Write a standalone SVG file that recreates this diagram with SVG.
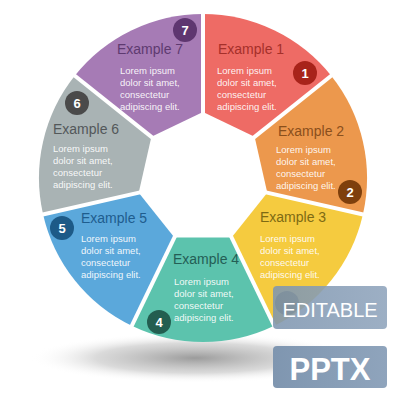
<svg xmlns="http://www.w3.org/2000/svg" width="400" height="400" viewBox="0 0 400 400">
<defs>
<radialGradient id="shadow" cx="0.5" cy="0.5" r="0.5">
<stop offset="0" stop-color="#909090" stop-opacity="0.9"/>
<stop offset="0.6" stop-color="#bcbcbc" stop-opacity="0.55"/>
<stop offset="1" stop-color="#ffffff" stop-opacity="0"/>
</radialGradient>
<linearGradient id="boxg" x1="0" y1="0" x2="1" y2="0">
<stop offset="0" stop-color="#7f96b0"/>
<stop offset="1" stop-color="#8fa4bc"/>
</linearGradient>
<style>
.t{font-family:"Liberation Sans",Arial,sans-serif;font-size:14px}
.l{font-family:"Liberation Sans",Arial,sans-serif;font-size:9.5px;fill:#ffffff;fill-opacity:0.92}
.bn{font-family:"Liberation Sans",Arial,sans-serif;font-size:13px;font-weight:bold;fill:#ffffff;text-anchor:middle}
.gap{stroke:#ffffff;stroke-width:4;fill:none}
</style>
</defs>
<rect width="400" height="400" fill="#ffffff"/>
<ellipse cx="195" cy="358" rx="165" ry="25" fill="url(#shadow)"/>
<g id="seg1">
<path d="M203 14 A164 164 0 0 1 331.2 75.7 L254.6 136.8 L203 112 Z" fill="#ee6b65"/>
<text class="t" x="218" y="54" fill="#a5302a">Example 1</text>
<text class="l" x="217" y="73.5">Lorem ipsum</text>
<text class="l" x="217" y="85.5">dolor sit amet,</text>
<text class="l" x="217" y="97.5">consectetur</text>
<text class="l" x="217" y="109.5">adipiscing elit.</text>
<circle cx="305" cy="73" r="12" fill="#a8231a"/>
<text class="bn" x="305" y="77.5">1</text>
</g>
<g id="seg2">
<path d="M331.2 75.7 A164 164 0 0 1 362.9 214.5 L267.3 192.7 L254.6 136.8 Z" fill="#ec984d"/>
<text class="t" x="278" y="136" fill="#8a4f1c">Example 2</text>
<text class="l" x="276" y="152.5">Lorem ipsum</text>
<text class="l" x="276" y="164.5">dolor sit amet,</text>
<text class="l" x="276" y="176.5">consectetur</text>
<text class="l" x="276" y="188.5">adipiscing elit.</text>
<circle cx="350" cy="192" r="12" fill="#7e3f0c"/>
<text class="bn" x="350" y="196.5">2</text>
</g>
<g id="seg3">
<path d="M362.9 214.5 A164 164 0 0 1 274.2 325.8 L231.6 237.5 L267.3 192.7 Z" fill="#f5cb3f"/>
<text class="t" x="260" y="222" fill="#7d6a14">Example 3</text>
<text class="l" x="260" y="241.5">Lorem ipsum</text>
<text class="l" x="260" y="253.5">dolor sit amet,</text>
<text class="l" x="260" y="265.5">consectetur</text>
<text class="l" x="260" y="277.5">adipiscing elit.</text>
<circle cx="287" cy="303" r="12" fill="#7a6512"/>
</g>
<g id="seg4">
<path d="M274.2 325.8 A164 164 0 0 1 131.8 325.8 L174.4 237.5 L231.6 237.5 Z" fill="#5cc3ad"/>
<text class="t" x="173" y="264" fill="#245e55">Example 4</text>
<text class="l" x="174" y="284.5">Lorem ipsum</text>
<text class="l" x="174" y="296.5">dolor sit amet,</text>
<text class="l" x="174" y="308.5">consectetur</text>
<text class="l" x="174" y="320.5">adipiscing elit.</text>
<circle cx="159" cy="322" r="12" fill="#235e50"/>
<text class="bn" x="159" y="326.5">4</text>
</g>
<g id="seg5">
<path d="M131.8 325.8 A164 164 0 0 1 43.1 214.5 L138.7 192.7 L174.4 237.5 Z" fill="#5ba8db"/>
<text class="t" x="81" y="223" fill="#1f5d8e">Example 5</text>
<text class="l" x="81" y="241.5">Lorem ipsum</text>
<text class="l" x="81" y="253.5">dolor sit amet,</text>
<text class="l" x="81" y="265.5">consectetur</text>
<text class="l" x="81" y="277.5">adipiscing elit.</text>
<circle cx="62" cy="228" r="12" fill="#1d5a87"/>
<text class="bn" x="62" y="232.5">5</text>
</g>
<g id="seg6">
<path d="M43.1 214.5 A164 164 0 0 1 74.8 75.7 L151.4 136.8 L138.7 192.7 Z" fill="#a9b3b4"/>
<text class="t" x="53" y="134" fill="#53585a">Example 6</text>
<text class="l" x="53" y="151.5">Lorem ipsum</text>
<text class="l" x="53" y="163.5">dolor sit amet,</text>
<text class="l" x="53" y="175.5">consectetur</text>
<text class="l" x="53" y="187.5">adipiscing elit.</text>
<circle cx="77" cy="103" r="12" fill="#4a4a4a"/>
<text class="bn" x="77" y="107.5">6</text>
</g>
<g id="seg7">
<path d="M74.8 75.7 A164 164 0 0 1 203 14 L203 112 L151.4 136.8 Z" fill="#a67bb5"/>
<text class="t" x="117" y="54" fill="#5e3a70">Example 7</text>
<text class="l" x="120" y="73.5">Lorem ipsum</text>
<text class="l" x="120" y="85.5">dolor sit amet,</text>
<text class="l" x="120" y="97.5">consectetur</text>
<text class="l" x="120" y="109.5">adipiscing elit.</text>
<circle cx="185" cy="30" r="12" fill="#5e3670"/>
<text class="bn" x="185" y="34.5">7</text>
</g>
<g id="gaps">
<line class="gap" x1="203" y1="118" x2="203" y2="8"/>
<line class="gap" x1="249.9" y1="140.6" x2="335.9" y2="72"/>
<line class="gap" x1="261.5" y1="191.4" x2="368.7" y2="215.8"/>
<line class="gap" x1="229" y1="232.1" x2="276.8" y2="331.2"/>
<line class="gap" x1="177" y1="232.1" x2="129.2" y2="331.2"/>
<line class="gap" x1="144.5" y1="191.4" x2="37.3" y2="215.8"/>
<line class="gap" x1="156.1" y1="140.6" x2="70.1" y2="72"/>
</g>
<g id="editable">
<rect x="273" y="286" width="114" height="43" rx="4" fill="url(#boxg)" fill-opacity="0.88"/>
<text x="330" y="317" text-anchor="middle" font-family="Liberation Sans, Arial, sans-serif" font-size="20" fill="#ffffff">EDITABLE</text>
</g>
<g id="pptx">
<rect x="273" y="346" width="114" height="42" rx="4" fill="url(#boxg)"/>
<text x="330" y="380" text-anchor="middle" font-family="Liberation Sans, Arial, sans-serif" font-size="31" font-weight="bold" fill="#ffffff">PPTX</text>
</g>
</svg>
